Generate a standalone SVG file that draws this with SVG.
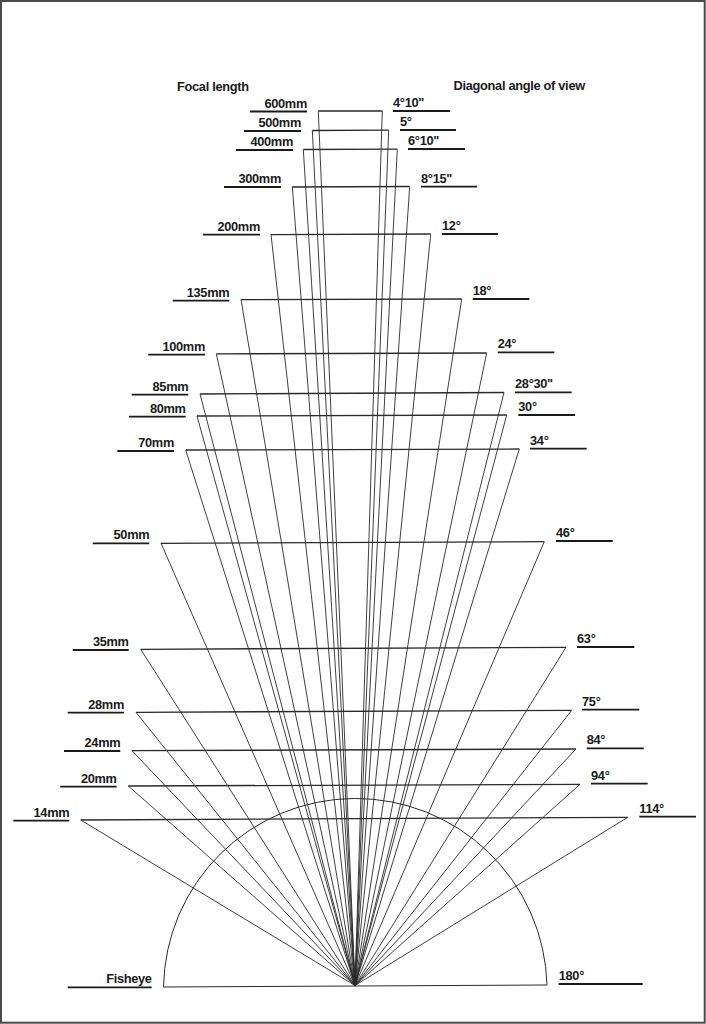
<svg xmlns="http://www.w3.org/2000/svg" width="706" height="1024" viewBox="0 0 706 1024">
<style>
  .t{font-family:"Liberation Sans",Arial,sans-serif;font-size:12.8px;font-weight:bold;fill:#1a1a1a;letter-spacing:-0.3px}
  .l{text-anchor:end}
  .u{stroke:#1a1a1a;stroke-width:1.8;fill:none}
  .h{stroke:#2a2a2a;stroke-width:1.3;fill:none}
  .r{stroke:#2a2a2a;stroke-width:0.9;fill:none}
  .a{stroke:#2a2a2a;stroke-width:1;fill:none}
</style>
<rect x="0" y="0" width="706" height="1024" fill="#ffffff"/>
<rect x="1" y="1" width="703.7" height="1021.7" fill="none" stroke="#4a4a4a" stroke-width="2"/>

<text class="t" x="177" y="90.5">Focal length</text>
<text class="t" x="453.5" y="90">Diagonal angle of view</text>

<g id="connectors">
  <path class="r" d="M355,985.5L318.3,111M355,985.5L382.3,111
  M355,985.5L312.3,130.3M355,985.5L388.7,130.3
  M355,985.5L303.3,149.3M355,985.5L397.3,149.3
  M355,985.5L292.3,186.7M355,985.5L409.7,186.7
  M355,985.5L271,234.3M355,985.5L430.7,234.3
  M355,985.5L241,299.3M355,985.5L461.7,299
  M355,985.5L216.3,353.7M355,985.5L486.7,353
  M355,985.5L200,394M355,985.5L504,392.5
  M355,985.5L197,416M355,985.5L506.7,415
  M355,985.5L185.7,450M355,985.5L519.3,449
  M355,985.5L161,543.3M355,985.5L544.3,541.7
  M355,985.5L140.7,649.3M355,985.5L566,647.3
  M355,985.5L136,712.3M355,985.5L571.7,710.3
  M355,985.5L132,750.7M355,985.5L576,749
  M355,985.5L128.3,786M355,985.5L580,784.3
  M355,985.5L80.7,820M355,985.5L627.7,817.3"/>
</g>

<g id="lens-600mm">
  <line class="h" x1="318.3" y1="111" x2="382.3" y2="111"/>
  <line class="u" x1="250" y1="111.5" x2="307" y2="111.5"/>
  <text class="t l" x="307" y="107.5">600mm</text>
  <line class="u" x1="393" y1="111" x2="450" y2="111"/>
  <text class="t" x="393" y="107">4°10"</text>
</g>
<g id="lens-500mm">
  <line class="h" x1="312.3" y1="130.5" x2="388.7" y2="130.2"/>
  <line class="u" x1="244" y1="131" x2="301" y2="131"/>
  <text class="t l" x="301" y="127">500mm</text>
  <line class="u" x1="400" y1="130" x2="456" y2="130"/>
  <text class="t" x="400" y="126">5°</text>
</g>
<g id="lens-400mm">
  <line class="h" x1="303.3" y1="149.5" x2="397.3" y2="149.2"/>
  <line class="u" x1="236" y1="150" x2="293" y2="150"/>
  <text class="t l" x="293" y="146">400mm</text>
  <line class="u" x1="408" y1="149" x2="465" y2="149"/>
  <text class="t" x="408" y="145">6°10"</text>
</g>
<g id="lens-300mm">
  <line class="h" x1="292.3" y1="187" x2="409.7" y2="186.5"/>
  <line class="u" x1="224" y1="187" x2="281" y2="187"/>
  <text class="t l" x="281" y="183">300mm</text>
  <line class="u" x1="421" y1="186.7" x2="477" y2="186.7"/>
  <text class="t" x="421" y="182.7">8°15"</text>
</g>
<g id="lens-200mm">
  <line class="h" x1="271" y1="234.6" x2="430.7" y2="234"/>
  <line class="u" x1="203" y1="234.7" x2="260" y2="234.7"/>
  <text class="t l" x="260" y="230.7">200mm</text>
  <line class="u" x1="442" y1="234" x2="498" y2="234"/>
  <text class="t" x="442" y="230">12°</text>
</g>
<g id="lens-135mm">
  <line class="h" x1="241" y1="299.6" x2="461.7" y2="299"/>
  <line class="u" x1="172.7" y1="300.7" x2="229.3" y2="300.7"/>
  <text class="t l" x="229.3" y="296.7">135mm</text>
  <line class="u" x1="472.7" y1="299" x2="529.3" y2="299"/>
  <text class="t" x="472.7" y="295">18°</text>
</g>
<g id="lens-100mm">
  <line class="h" x1="216.3" y1="353.9" x2="486.7" y2="353"/>
  <line class="u" x1="148.3" y1="354.7" x2="205" y2="354.7"/>
  <text class="t l" x="205" y="350.7">100mm</text>
  <line class="u" x1="497.7" y1="352.3" x2="554.3" y2="352.3"/>
  <text class="t" x="497.7" y="348.3">24°</text>
</g>
<g id="lens-85mm">
  <line class="h" x1="200" y1="394" x2="504" y2="392.5"/>
  <line class="u" x1="131.7" y1="394.7" x2="188.3" y2="394.7"/>
  <text class="t l" x="188.3" y="390.7">85mm</text>
  <line class="u" x1="515" y1="392.3" x2="571.7" y2="392.3"/>
  <text class="t" x="515" y="388.3">28°30"</text>
</g>
<g id="lens-80mm">
  <line class="h" x1="197" y1="416" x2="506.7" y2="415"/>
  <line class="u" x1="129" y1="416.7" x2="185.7" y2="416.7"/>
  <text class="t l" x="185.7" y="412.7">80mm</text>
  <line class="u" x1="518.3" y1="415" x2="575" y2="415"/>
  <text class="t" x="518.3" y="411">30°</text>
</g>
<g id="lens-70mm">
  <line class="h" x1="185.7" y1="450" x2="519.3" y2="449"/>
  <line class="u" x1="117.3" y1="451" x2="174" y2="451"/>
  <text class="t l" x="174" y="447">70mm</text>
  <line class="u" x1="530" y1="448.7" x2="586.7" y2="448.7"/>
  <text class="t" x="530" y="444.7">34°</text>
</g>
<g id="lens-50mm">
  <line class="h" x1="161" y1="543.3" x2="544.3" y2="541.7"/>
  <line class="u" x1="92.7" y1="543.3" x2="149.3" y2="543.3"/>
  <text class="t l" x="149.3" y="539.3">50mm</text>
  <line class="u" x1="556" y1="541" x2="612.7" y2="541"/>
  <text class="t" x="556" y="537">46°</text>
</g>
<g id="lens-35mm">
  <line class="h" x1="140.7" y1="649.3" x2="566" y2="647.3"/>
  <line class="u" x1="72.7" y1="650" x2="128.7" y2="650"/>
  <text class="t l" x="128.7" y="646">35mm</text>
  <line class="u" x1="577" y1="647" x2="634.3" y2="647"/>
  <text class="t" x="577" y="643">63°</text>
</g>
<g id="lens-28mm">
  <line class="h" x1="136" y1="712.3" x2="571.7" y2="710.3"/>
  <line class="u" x1="67.7" y1="712.7" x2="124" y2="712.7"/>
  <text class="t l" x="124" y="708.7">28mm</text>
  <line class="u" x1="582" y1="709.7" x2="639.3" y2="709.7"/>
  <text class="t" x="582" y="705.7">75°</text>
</g>
<g id="lens-24mm">
  <line class="h" x1="132" y1="750.7" x2="576" y2="749"/>
  <line class="u" x1="64" y1="751" x2="120.3" y2="751"/>
  <text class="t l" x="120.3" y="747">24mm</text>
  <line class="u" x1="586.7" y1="748.3" x2="643.7" y2="748.3"/>
  <text class="t" x="586.7" y="744.3">84°</text>
</g>
<g id="lens-20mm">
  <line class="h" x1="128.3" y1="786" x2="580" y2="784.3"/>
  <line class="u" x1="60.3" y1="786.7" x2="116.7" y2="786.7"/>
  <text class="t l" x="116.7" y="782.7">20mm</text>
  <line class="u" x1="591" y1="783.7" x2="647.7" y2="783.7"/>
  <text class="t" x="591" y="779.7">94°</text>
</g>
<g id="lens-14mm">
  <line class="h" x1="80.7" y1="820" x2="627.7" y2="817.3"/>
  <line class="u" x1="13.3" y1="820.7" x2="69.3" y2="820.7"/>
  <text class="t l" x="69.3" y="816.7">14mm</text>
  <line class="u" x1="639.3" y1="816.7" x2="696" y2="816.7"/>
  <text class="t" x="639.3" y="812.7">114°</text>
</g>
<g id="lens-fisheye">
  <path class="a" d="M163.5,987 A191.8,191.8 0 0 1 547,985 Z"/>
  <line class="u" x1="67.7" y1="987.3" x2="151.7" y2="987.3"/>
  <text class="t l" x="151.7" y="983.3">Fisheye</text>
  <line class="u" x1="558.7" y1="984" x2="642.7" y2="984"/>
  <text class="t" x="558.7" y="980">180°</text>
</g>
</svg>
